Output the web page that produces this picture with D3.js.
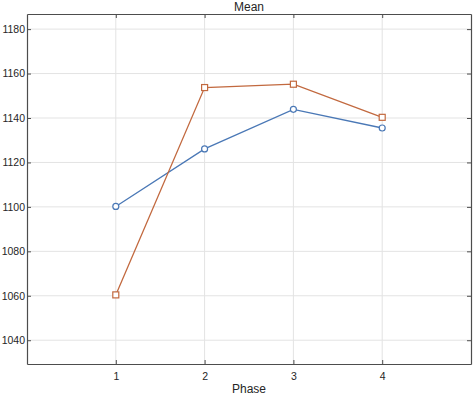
<!DOCTYPE html>
<html>
<head>
<meta charset="utf-8">
<script src="https://cdn.jsdelivr.net/npm/d3@7"></script>
<style>
  body { margin: 0; background: #fff; }
  text { font-family: "Liberation Sans", Arial, sans-serif; fill: #262626; }
</style>
</head>
<body>
<div id="chart"></div>
<script>
// Chart data
var phases = [1, 2, 3, 4];
var seriesA = [1100.2, 1126.1, 1143.9, 1135.5];
var seriesB = [1060.4, 1153.7, 1155.2, 1140.3];
var yTicks = [1040, 1060, 1080, 1100, 1120, 1140, 1160, 1180];

// SVG setup
var svgWidth = 474;
var svgHeight = 396;
var margin = { top: 14, right: 3, bottom: 32, left: 27 };
var width = svgWidth - margin.left - margin.right;
var height = svgHeight - margin.top - margin.bottom;

var svg = d3.select("#chart").append("svg")
    .attr("width", svgWidth)
    .attr("height", svgHeight);

var chartGroup = svg.append("g")
    .attr("transform", `translate(${margin.left}, ${margin.top})`);

// Scales
var xScale = d3.scaleLinear().domain([0, 5]).range([0, width]);
var yScale = d3.scaleLinear().domain([1029.3, 1186.8]).range([height, 0]);

// Grid lines
chartGroup.append("g")
    .selectAll("line.vg")
    .data(phases)
    .enter().append("line")
    .attr("x1", d => xScale(d)).attr("x2", d => xScale(d))
    .attr("y1", 0).attr("y2", height)
    .attr("stroke", "#e3e3e3").attr("stroke-width", 1);

chartGroup.append("g")
    .selectAll("line.hg")
    .data(yTicks)
    .enter().append("line")
    .attr("x1", 0).attr("x2", width)
    .attr("y1", d => yScale(d)).attr("y2", d => yScale(d))
    .attr("stroke", "#e3e3e3").attr("stroke-width", 1);

// Axes (MATLAB style box with inner ticks)
var bottomAxis = d3.axisBottom(xScale).tickValues(phases).tickFormat(d3.format("d"))
    .tickSizeInner(-4).tickSizeOuter(0).tickPadding(9);
var leftAxis = d3.axisLeft(yScale).tickValues(yTicks).tickFormat(d3.format("d"))
    .tickSizeInner(-4).tickSizeOuter(0).tickPadding(2);
var topAxis = d3.axisTop(xScale).tickValues(phases).tickSizeInner(-4).tickSizeOuter(0).tickFormat("");
var rightAxis = d3.axisRight(yScale).tickValues(yTicks).tickSizeInner(-4).tickSizeOuter(0).tickFormat("");

function styleAxis(g) {
    g.selectAll("path").attr("stroke", "#4d4d4d").attr("stroke-width", 1.2);
    g.selectAll("line").attr("stroke", "#4d4d4d");
    g.selectAll("text").attr("font-size", 10.5).attr("fill", "#262626")
        .attr("font-family", "'Liberation Sans', Arial, sans-serif");
}

chartGroup.append("g").attr("transform", `translate(0, ${height})`).call(bottomAxis).call(styleAxis);
chartGroup.append("g").call(leftAxis).call(styleAxis);
chartGroup.append("g").call(topAxis).call(styleAxis);
chartGroup.append("g").attr("transform", `translate(${width}, 0)`).call(rightAxis).call(styleAxis);

// Lines
var line = d3.line()
    .x((d, i) => xScale(phases[i]))
    .y(d => yScale(d));

chartGroup.append("path")
    .datum(seriesA)
    .attr("fill", "none")
    .attr("stroke", "#4a78b6")
    .attr("stroke-width", 1.3)
    .attr("d", line);

chartGroup.append("path")
    .datum(seriesB)
    .attr("fill", "none")
    .attr("stroke", "#c2693f")
    .attr("stroke-width", 1.3)
    .attr("d", line);

// Markers
chartGroup.selectAll("circle.a")
    .data(seriesA)
    .enter().append("circle")
    .attr("cx", (d, i) => xScale(phases[i]))
    .attr("cy", d => yScale(d))
    .attr("r", 3)
    .attr("fill", "#fff")
    .attr("stroke", "#4a78b6")
    .attr("stroke-width", 1.2);

chartGroup.selectAll("rect.b")
    .data(seriesB)
    .enter().append("rect")
    .attr("x", (d, i) => xScale(phases[i]) - 3)
    .attr("y", d => yScale(d) - 3)
    .attr("width", 6)
    .attr("height", 6)
    .attr("fill", "#fff")
    .attr("stroke", "#c2693f")
    .attr("stroke-width", 1.2);

// Title and axis label
svg.append("text")
    .attr("x", margin.left + width / 2)
    .attr("y", 11)
    .attr("text-anchor", "middle")
    .attr("font-size", 12)
    .text("Mean");

svg.append("text")
    .attr("x", margin.left + width / 2)
    .attr("y", 393)
    .attr("text-anchor", "middle")
    .attr("font-size", 12)
    .text("Phase");
</script>
</body>
</html>
